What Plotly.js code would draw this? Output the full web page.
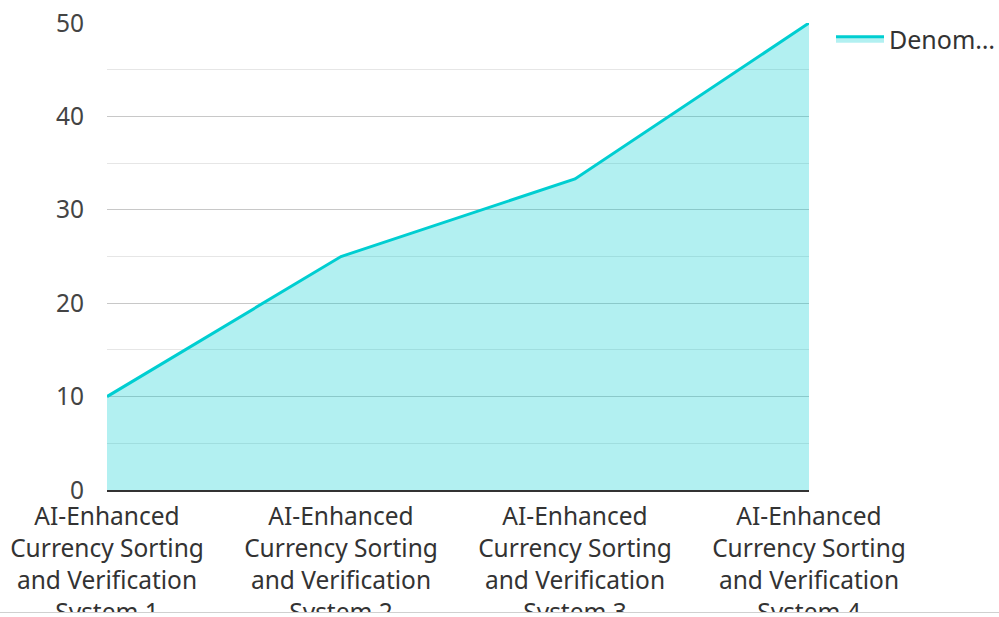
<!DOCTYPE html>
<html>
<head>
<meta charset="utf-8">
<script src="https://cdn.plot.ly/plotly-3.0.1.min.js"></script>
<style>
html,body{margin:0;padding:0;background:#fff;}
#wrap{width:999px;height:612px;overflow:hidden;border-bottom:1px solid #d0d0d0;}
#chart{width:999px;height:612px;}
</style>
</head>
<body>
<div id="wrap"><div id="chart"></div></div>
<script>
const categories = [
  "AI-Enhanced Currency Sorting and Verification System 1",
  "AI-Enhanced Currency Sorting and Verification System 2",
  "AI-Enhanced Currency Sorting and Verification System 3",
  "AI-Enhanced Currency Sorting and Verification System 4"
];
const tickLabels = [
  "AI-Enhanced<br>Currency Sorting<br>and Verification<br>System 1",
  "AI-Enhanced<br>Currency Sorting<br>and Verification<br>System 2",
  "AI-Enhanced<br>Currency Sorting<br>and Verification<br>System 3",
  "AI-Enhanced<br>Currency Sorting<br>and Verification<br>System 4"
];
const seriesName = "Denom…";
const values = [10, 25, 33.3, 50];

const trace = {
  type: 'scatter',
  mode: 'lines',
  x: categories,
  y: values,
  name: seriesName,
  fill: 'tozeroy',
  fillcolor: 'rgba(0,206,209,0.3)',
  line: {color: '#00CED1', width: 3},
  showlegend: true
};

const layout = {
  width: 999,
  height: 612,
  margin: {l: 107, r: 190, t: 23, b: 122},
  paper_bgcolor: '#fff',
  plot_bgcolor: '#fff',
  font: {family: '"Noto Sans", sans-serif', size: 24.5, color: '#333'},
  showlegend: true,
  legend: {
    xref: 'container', yref: 'container',
    x: 831/999, xanchor: 'left', y: 1 - 16/612, yanchor: 'top',
    font: {size: 25, color: '#333'},
    itemwidth: 48,
    bgcolor: 'rgba(0,0,0,0)'
  },
  xaxis: {
    type: 'category',
    range: [0, 3],
    tickvals: categories,
    ticktext: tickLabels,
    showgrid: false,
    showline: true,
    linecolor: '#333',
    linewidth: 2,
    ticks: '',
    zeroline: false,
    ticklabelstandoff: 4,
    tickfont: {size: 24.5, color: '#333'},
    automargin: false
  },
  yaxis: {
    range: [0, 50],
    dtick: 10,
    showgrid: true,
    gridcolor: '#c8c8c8',
    gridwidth: 1,
    zeroline: false,
    showline: false,
    ticks: '',
    ticklabelstandoff: 22,
    tickfont: {size: 24.5, color: '#444'},
    minor: {dtick: 5, showgrid: true, gridcolor: '#e6e6e6', gridwidth: 1},
    automargin: false
  }
};

Plotly.newPlot('chart', [trace], layout, {displayModeBar: false, staticPlot: true});
</script>
</body>
</html>
